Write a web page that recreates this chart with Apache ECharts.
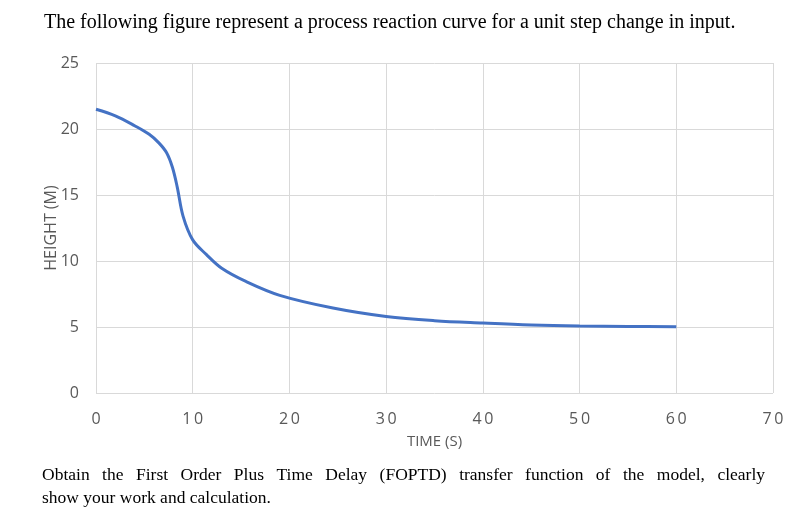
<!DOCTYPE html>
<html>
<head>
<meta charset="utf-8">
<script src="https://cdn.jsdelivr.net/npm/echarts@6/dist/echarts.min.js"></script>
<style>
html,body{margin:0;padding:0;background:#fff;}
#c{width:810px;height:523px;}
</style>
</head>
<body>
<div id="c"></div>
<script>
const timeS = [0,2,4,5.5,6.5,7.3,7.9,8.4,9,10,11.4,13,15.5,19,24.5,30,35,40,45,50,55,60];
const heightM = [21.5,21.0,20.25,19.6,18.95,18.2,17.1,15.6,13.4,11.6,10.5,9.45,8.45,7.4,6.44,5.8,5.48,5.3,5.15,5.07,5.04,5.02];
const xTicks = [0,10,20,30,40,50,60,70];
const yTicks = [0,5,10,15,20,25];
const topText = 'The following figure represent a process reaction curve for a unit step change in input.';
const bottomLine1 = 'Obtain the First Order Plus Time Delay (FOPTD) transfer function of the model, clearly';
const bottomLine2 = 'show your work and calculation.';

const serif = '"Liberation Serif", "Times New Roman", serif';
const sans = '"Open Sans", "Liberation Sans", sans-serif';
const bottomFont = '17.5px ' + serif;

// justify first bottom line between left and right margins
function justified(text, font, left, right, top) {
  const ctx = document.createElement('canvas').getContext('2d');
  ctx.font = font;
  const words = text.split(' ');
  const widths = words.map(w => ctx.measureText(w).width);
  const total = widths.reduce((a, b) => a + b, 0);
  const gap = (right - left - total) / (words.length - 1);
  let x = left;
  return words.map((w, i) => {
    const el = {type: 'text', x: x, y: top, style: {text: w, font: font, fill: '#000'}};
    x += widths[i] + gap;
    return el;
  });
}

const chart = echarts.init(document.getElementById('c'));
chart.setOption({
  animation: false,
  backgroundColor: '#fff',
  grid: {left: 96, right: 37, top: 63, bottom: 130, containLabel: false},
  graphic: [
    {type: 'text', x: 44, y: 13, style: {text: topText, font: '20px ' + serif, fill: '#000'}},
    ...justified(bottomLine1, bottomFont, 42, 765, 466),
    {type: 'text', x: 42, y: 489, style: {text: bottomLine2, font: bottomFont, fill: '#000'}}
  ],
  xAxis: {
    type: 'value', min: 0, max: 70, interval: 10,
    name: 'TIME (S)', nameLocation: 'middle', nameGap: 41,
    nameTextStyle: {color: '#595959', fontSize: 15, fontFamily: sans},
    axisLine: {show: false}, axisTick: {show: false},
    axisLabel: {color: '#595959', fontSize: 16, fontFamily: sans, margin: 18,
      formatter: v => xTicks.includes(v) ? String(v).split('').join('\u2009') : ''},
    splitLine: {show: true, lineStyle: {color: '#d9d9d9', width: 1}}
  },
  yAxis: {
    type: 'value', min: 0, max: 25, interval: 5,
    name: 'HEIGHT (M)', nameLocation: 'middle', nameGap: 37, nameMoveOverlap: false,
    nameTextStyle: {color: '#595959', fontSize: 16, fontFamily: sans},
    axisLine: {show: false}, axisTick: {show: false},
    axisLabel: {color: '#595959', fontSize: 16, fontFamily: sans, margin: 17,
      formatter: v => yTicks.includes(v) ? String(v) : ''},
    splitLine: {show: true, lineStyle: {color: '#d9d9d9', width: 1}}
  },
  series: [{
    type: 'line', smooth: 0.35, symbol: 'none',
    data: timeS.map((t, i) => [t, heightM[i]]),
    lineStyle: {color: '#4472C4', width: 3}
  }]
});
</script>
</body>
</html>
